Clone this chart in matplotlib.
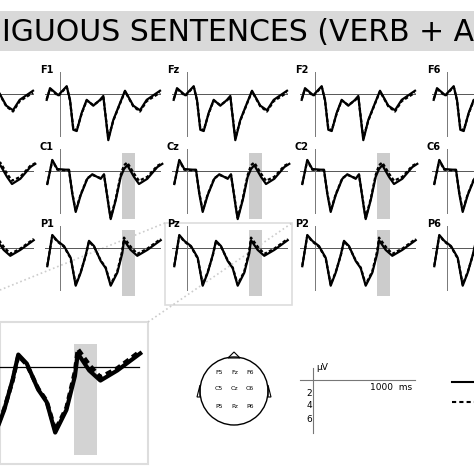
import numpy as np
import matplotlib
matplotlib.use('Agg')
from matplotlib import pyplot as plt
from matplotlib.patches import Rectangle, Circle, Polygon

W, H = 474, 474

# waveforms, time in ms, amplitude in microvolt (positive plotted downward)
t_F = [-133, -100, -17, 67, 100, 133, 167, 217, 267, 333, 400, 433, 483, 533, 600, 650, 733, 800, 867, 1000]
F_solid = [0.9, -0.9, 0.2, -1.2, 0.9, 5.5, 5.7, 2.9, 0.9, 1.8, 0.9, 0.3, 7.1, 4.0, 1.4, -0.5, 1.8, 2.5, 0.9, -0.5]
F_dash = [0.8, -0.8, 0.3, -1.1, 1.0, 5.3, 5.6, 3.0, 1.0, 1.7, 1.0, 0.4, 6.8, 4.1, 1.5, -0.4, 1.9, 2.7, 1.1, -0.2]

t_C = [-127, -77, -27, 57, 90, 123, 157, 207, 273, 323, 407, 440, 490, 507, 557, 607, 640, 673, 740, 790, 873, 973, 1023]
C_solid = [2.0, -1.7, -0.3, -0.2, -0.2, 3.5, 6.3, 3.7, 1.2, 0.5, 1.2, 0.5, 5.8, 7.4, 4.5, 0.9, -0.3, -0.9, 0.9, 2.0, 1.2, -0.6, -1.1]
C_dash = [2.0, -1.6, -0.2, -0.1, -0.1, 3.4, 6.1, 3.6, 1.1, 0.6, 1.1, 0.6, 5.6, 7.2, 4.3, 0.6, -0.9, -1.3, 0.4, 1.5, 0.9, -0.8, -1.2]

t_P = [-127, -77, -27, 40, 107, 157, 207, 257, 290, 340, 407, 457, 507, 573, 623, 640, 707, 773, 873, 1007]
P_solid = [2.8, -2.0, -1.1, -0.3, 1.5, 5.8, 3.8, 1.1, -1.1, -0.3, 2.0, 3.1, 5.8, 3.8, 0.8, -1.2, 0.3, 1.2, 0.3, -1.2]
P_dash = [2.7, -1.9, -1.0, -0.2, 1.6, 5.6, 3.7, 1.2, -1.0, -0.2, 1.9, 3.0, 5.6, 3.6, 0.4, -1.6, -0.2, 0.9, 0.1, -1.4]

rows = [
    (['F5', 'F1', 'Fz', 'F2', 'F6'], t_F, F_solid, F_dash, False),
    (['C5', 'C1', 'Cz', 'C2', 'C6'], t_C, C_solid, C_dash, True),
    (['P5', 'P1', 'Pz', 'P2', 'P6'], t_P, P_solid, P_dash, True),
]
col_x = [-67, 60, 187, 315, 447]
row_y = [94, 171, 248]
window = (620, 750)

head_labels = [['F5', 'Fz', 'F6'], ['C5', 'Cz', 'C6'], ['P5', 'Pz', 'P6']]

fig = plt.figure(figsize=(W / 100, H / 100), dpi=100)


def panel(x0, y0, sx, sy, tlim=(-200, 1100), vlim=(-3.5, 9)):
    rect = [(x0 + tlim[0] * sx) / W, 1 - (y0 + vlim[1] * sy) / H,
            (tlim[1] - tlim[0]) * sx / W, (vlim[1] - vlim[0]) * sy / H]
    ax = fig.add_axes(rect)
    ax.set_xlim(*tlim)
    ax.set_ylim(vlim[1], vlim[0])
    ax.axis('off')
    return ax


# overlay axes in pixel coords
bg = fig.add_axes([0, 0, 1, 1])
bg.set_xlim(0, W)
bg.set_ylim(H, 0)
bg.axis('off')
bg.add_patch(Rectangle((0, 11), W, 40, color='#d9d9d9', lw=0))
bg.text(2, 32, 'IGUOUS SENTENCES (VERB + A', fontsize=21.5, va='center', ha='left')

for (labels, t, s, d, shade), y0 in zip(rows, row_y):
    for lab, x0 in zip(labels, col_x):
        ax = panel(x0, y0, 0.1, 6.5)
        ax.plot([-150, 1000], [0, 0], color='#555555', lw=0.7)
        ax.plot([0, 0], [-3.4, 6.5], color='#777777', lw=0.7)
        if shade and x0 > 0:
            ax.add_patch(Rectangle((window[0], -2.8), window[1] - window[0], 10.2,
                                   color='#cccccc', lw=0, zorder=0))
        ax.plot(t, s, color='black', lw=1.6)
        ax.plot(t, d, color='black', lw=1.6, ls=(0, (1.5, 1)))
        if x0 > 0:
            bg.text(x0 - 20, y0 - 24, lab, fontsize=7, fontweight='bold', ha='left', va='center')

# highlight box around Pz and zoom lines
bg.add_patch(Rectangle((165, 223), 127, 82, fill=False, ec='#dddddd', lw=1.2))
bg.plot([165, 0], [223, 290], ls=':', color='#cccccc', lw=1.2)
bg.plot([148, 292], [322, 223], ls=':', color='#cccccc', lw=1.2)

# enlarged Pz
bg.add_patch(Rectangle((0, 322), 148, 142, fill=False, ec='#dddddd', lw=1.5))
axz = panel(-31, 367, 0.17, 11.3, tlim=(-200, 1030), vlim=(-3.5, 8.5))
axz.plot([-150, 1000], [0, 0], color='black', lw=0.9)
axz.add_patch(Rectangle((window[0], -2.0), window[1] - window[0], 9.8,
                        color='#d3d3d3', lw=0, zorder=0))
axz.plot(t_P, P_solid, color='black', lw=3)
axz.plot(t_P, P_dash, color='black', lw=3, ls=(0, (1.5, 1)))

# head map
bg.add_patch(Circle((234, 391), 34, fill=False, ec='black', lw=1))
bg.add_patch(Polygon([(228, 358), (234, 352), (240, 358)], fill=False, ec='black', lw=0.8))
bg.add_patch(Polygon([(200, 385), (197, 397), (200, 397)], fill=False, ec='black', lw=0.8))
bg.add_patch(Polygon([(268, 385), (271, 397), (268, 397)], fill=False, ec='black', lw=0.8))
for i, row in enumerate(head_labels):
    for j, lab in enumerate(row):
        bg.text(219 + 15.5 * j, 372 + 17 * i, lab, fontsize=4.5, ha='center', va='center')

# scale
bg.plot([313, 313], [368, 433], color='#777777', lw=0.8)
bg.plot([300, 415], [380, 380], color='#777777', lw=0.8)
bg.text(316, 368, 'µV', fontsize=6.5, va='center')
bg.text(370, 388, '1000  ms', fontsize=6.5, va='center')
for v in [2, 4, 6]:
    bg.text(312, 380 + v * 6.5, str(v), fontsize=6.5, ha='right', va='center')

# legend keys
bg.plot([452, 474], [382, 382], color='black', lw=1.5)
bg.plot([452, 474], [402, 402], color='black', lw=1.5, ls=(0, (2, 1.5)))

fig.savefig('out.png', dpi=100)
